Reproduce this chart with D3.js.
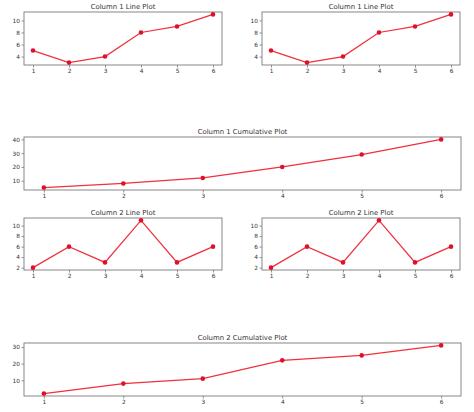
<!DOCTYPE html>
<html><head><meta charset="utf-8">
<script src="https://cdn.jsdelivr.net/npm/d3@7"></script>
<style>body{margin:0;background:#fff}svg{display:block}text{font-family:"DejaVu Sans",sans-serif;fill:#333}</style>
</head><body><svg id="c" width="474" height="412"></svg>
<script>
const xs = [1, 2, 3, 4, 5, 6];
const col1 = [5, 3, 4, 8, 9, 11];
const col1Cum = [5, 8, 12, 20, 29, 40];
const col2 = [2, 6, 3, 11, 3, 6];
const col2Cum = [2, 8, 11, 22, 25, 31];
const ticks1 = [4, 6, 8, 10];
const ticks1Cum = [10, 20, 30, 40];
const ticks2 = [2, 4, 6, 8, 10];
const ticks2Cum = [10, 20, 30];

const svg = d3.select("#c");
const panels = [
  {title:"Column 1 Line Plot", ys:col1, yt:ticks1, x0:24, x1:222, y0:12, y1:65},
  {title:"Column 1 Line Plot", ys:col1, yt:ticks1, x0:262, x1:460, y0:12, y1:65},
  {title:"Column 1 Cumulative Plot", ys:col1Cum, yt:ticks1Cum, x0:24, x1:461, y0:137, y1:190},
  {title:"Column 2 Line Plot", ys:col2, yt:ticks2, x0:24, x1:222, y0:218, y1:270},
  {title:"Column 2 Line Plot", ys:col2, yt:ticks2, x0:262, x1:460, y0:218, y1:270},
  {title:"Column 2 Cumulative Plot", ys:col2Cum, yt:ticks2Cum, x0:24, x1:461, y0:343, y1:396}
];
panels.forEach(p => {
  const xe = d3.extent(xs), ye = d3.extent(p.ys);
  const xp = (xe[1]-xe[0])*0.05, yp = (ye[1]-ye[0])*0.05;
  const x = d3.scaleLinear().domain([xe[0]-xp, xe[1]+xp]).range([p.x0, p.x1]);
  const y = d3.scaleLinear().domain([ye[0]-yp, ye[1]+yp]).range([p.y1, p.y0]);
  const g = svg.append("g");
  const xa = g.append("g").attr("transform",`translate(0,${p.y1})`)
    .call(d3.axisBottom(x).tickValues(xs).tickFormat(d3.format("d")).tickSize(2.5).tickPadding(1.5));
  const ya = g.append("g").attr("transform",`translate(${p.x0},0)`)
    .call(d3.axisLeft(y).tickValues(p.yt).tickFormat(d3.format("d")).tickSize(2.5).tickPadding(1.5));
  [xa, ya].forEach(a => {
    a.select(".domain").remove();
    a.selectAll(".tick line").attr("stroke","#666").attr("stroke-width",0.7);
    a.selectAll(".tick text").attr("font-size",5.8).attr("fill","#333").attr("font-family","DejaVu Sans, sans-serif");
  });
  g.append("rect").attr("x",p.x0).attr("y",p.y0).attr("width",p.x1-p.x0).attr("height",p.y1-p.y0)
    .attr("fill","none").attr("stroke","#7a7a7a").attr("stroke-width",0.9);
  g.append("text").attr("x",(p.x0+p.x1)/2).attr("y",p.y0-3).attr("text-anchor","middle")
    .attr("font-size",6.9).text(p.title);
  const data = xs.map((v,i)=>[v,p.ys[i]]);
  g.append("path").datum(data).attr("fill","none").attr("stroke","#f0303a").attr("stroke-width",1.25)
    .attr("d", d3.line().x(d=>x(d[0])).y(d=>y(d[1])));
  g.selectAll("circle").data(data).join("circle")
    .attr("cx",d=>x(d[0])).attr("cy",d=>y(d[1])).attr("r",2.3).attr("fill","#e0102a");
});
</script></body></html>
